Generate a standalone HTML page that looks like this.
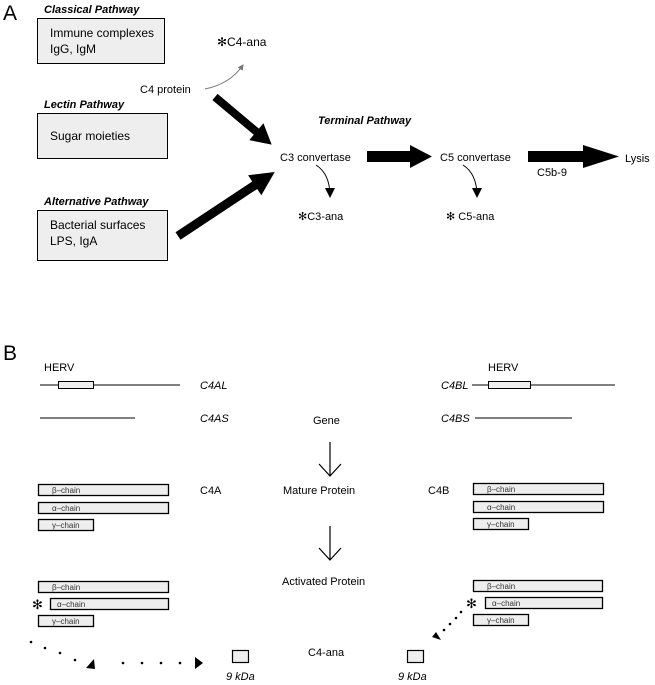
<!DOCTYPE html>
<html><head><meta charset="utf-8"><style>body{margin:0;background:#fff}svg{display:block}</style></head><body>
<svg width="655" height="685" viewBox="0 0 655 685" xmlns="http://www.w3.org/2000/svg" font-family="Liberation Sans, sans-serif" font-size="11">
<defs>
<marker id="ah" markerWidth="10" markerHeight="10" refX="8" refY="5" orient="auto" markerUnits="userSpaceOnUse"><path d="M0,0 L10,5 L0,10 Z" fill="#000"/></marker>
<marker id="ag" markerWidth="6" markerHeight="6" refX="5" refY="3" orient="auto" markerUnits="userSpaceOnUse"><path d="M0,0 L6,3 L0,6 Z" fill="#777"/></marker>
</defs>
<text x="3" y="20" font-size="21">A</text>
<text x="44" y="13" font-weight="bold" font-style="italic">Classical Pathway</text>
<rect x="37.5" y="18.5" width="127" height="45" fill="#eee" stroke="#000"/>
<text x="50" y="37" font-size="12">Immune complexes</text>
<text x="50" y="53" font-size="12">IgG, IgM</text>
<text x="217" y="46" font-size="12">✻C4-ana</text>
<text x="140" y="93" font-size="11">C4 protein</text>
<path d="M205,89 Q230,84 243,65" fill="none" stroke="#777" stroke-width="1" marker-end="url(#ag)"/>
<text x="44" y="108" font-weight="bold" font-style="italic">Lectin Pathway</text>
<rect x="37.5" y="113.5" width="130" height="45" fill="#eee" stroke="#000"/>
<text x="50" y="140" font-size="12">Sugar moieties</text>
<text x="44" y="205" font-weight="bold" font-style="italic">Alternative Pathway</text>
<rect x="37.5" y="210.5" width="130" height="50" fill="#eee" stroke="#000"/>
<text x="50" y="229" font-size="12">Bacterial surfaces</text>
<text x="50" y="245" font-size="12">LPS, IgA</text>
<g transform="translate(215,97) rotate(40)"><polygon points="0,-4 54,-4 54,-11 74,0 54,11 54,4 0,4"/></g>
<g transform="translate(178,236) rotate(-33.5)"><polygon points="0,-4.5 92,-4.5 92,-12 116,0 92,12 92,4.5 0,4.5"/></g>
<text x="280" y="161" font-size="11">C3 convertase</text>
<text x="318" y="124" font-weight="bold" font-style="italic">Terminal Pathway</text>
<polygon points="367,151 410,151 410,145 432,156.5 410,168 410,162 367,162"/>
<text x="440" y="161" font-size="11">C5 convertase</text>
<polygon points="528,151 583,151 583,145 619,156.5 583,168 583,162 528,162"/>
<text x="625" y="162" font-size="11">Lysis</text>
<text x="537" y="176" font-size="11">C5b-9</text>
<path d="M316,165 Q330,174 330,196" fill="none" stroke="#000" stroke-width="1" marker-end="url(#ah)"/>
<path d="M463,165 Q477,174 477,196" fill="none" stroke="#000" stroke-width="1" marker-end="url(#ah)"/>
<text x="298" y="220" font-size="11">✻C3-ana</text>
<text x="446" y="220" font-size="11">✻ C5-ana</text>

<text x="3" y="360" font-size="21">B</text>
<text x="44" y="371" font-size="11">HERV</text>
<line x1="40" y1="385" x2="180" y2="385" stroke="#000"/>
<rect x="58.5" y="381.5" width="35" height="7" fill="#eee" stroke="#000"/>
<text x="200" y="389" font-style="italic">C4AL</text>
<line x1="40" y1="418" x2="135" y2="418" stroke="#000"/>
<text x="200" y="422" font-style="italic">C4AS</text>
<text x="488" y="371" font-size="11">HERV</text>
<line x1="472" y1="385" x2="615" y2="385" stroke="#000"/>
<rect x="488.5" y="381.5" width="42" height="7" fill="#eee" stroke="#000"/>
<text x="441" y="389" font-style="italic">C4BL</text>
<line x1="475" y1="418" x2="572" y2="418" stroke="#000"/>
<text x="441" y="422" font-style="italic">C4BS</text>
<text x="313" y="424">Gene</text>
<path d="M330,442 V475 M319,464 L330,476 L341,464" fill="none" stroke="#000" stroke-width="1.2"/>
<text x="283" y="494">Mature Protein</text>
<path d="M330,526 V559 M319,548 L330,560 L341,548" fill="none" stroke="#000" stroke-width="1.2"/>
<text x="282" y="585">Activated Protein</text>
<text x="308" y="656">C4-ana</text>
<text x="200" y="494">C4A</text>
<text x="428" y="494">C4B</text>
<g font-size="8" fill="#333" stroke-width="1.3">
<rect x="38.5" y="484.5" width="130" height="11" fill="#eee" stroke="#000"/><text x="52" y="493">β–chain</text>
<rect x="38.5" y="502.5" width="130" height="11" fill="#eee" stroke="#000"/><text x="52" y="511">α–chain</text>
<rect x="38.5" y="519.5" width="55" height="11" fill="#eee" stroke="#000"/><text x="52" y="528">γ–chain</text>
<rect x="38.5" y="581.5" width="130" height="11" fill="#eee" stroke="#000"/><text x="52" y="590">β–chain</text>
<rect x="50.5" y="598.5" width="118" height="11" fill="#eee" stroke="#000"/><text x="57" y="607">α–chain</text>
<rect x="38.5" y="615.5" width="55" height="11" fill="#eee" stroke="#000"/><text x="52" y="624">γ–chain</text>
<rect x="473.5" y="483.5" width="130" height="11" fill="#eee" stroke="#000"/><text x="487" y="492">β–chain</text>
<rect x="473.5" y="501.5" width="130" height="11" fill="#eee" stroke="#000"/><text x="487" y="510">α–chain</text>
<rect x="473.5" y="518.5" width="55" height="11" fill="#eee" stroke="#000"/><text x="487" y="527">γ–chain</text>
<rect x="473.5" y="580.5" width="129" height="11" fill="#eee" stroke="#000"/><text x="487" y="589">β–chain</text>
<rect x="485.5" y="597.5" width="117" height="11" fill="#eee" stroke="#000"/><text x="492" y="606">α–chain</text>
<rect x="473.5" y="614.5" width="55" height="11" fill="#eee" stroke="#000"/><text x="487" y="623">γ–chain</text>
</g>
<text x="32" y="609" font-size="13">✻</text>
<text x="466" y="608" font-size="13">✻</text>
<g fill="#000">
<circle cx="31" cy="642" r="1.3"/><circle cx="45" cy="648" r="1.3"/><circle cx="60" cy="653" r="1.3"/><circle cx="75" cy="660" r="1.3"/>
<polygon points="86,668 94,659 95,669"/>
<circle cx="123" cy="663" r="1.3"/><circle cx="142" cy="663" r="1.3"/><circle cx="161" cy="663" r="1.3"/><circle cx="180" cy="663" r="1.3"/>
<polygon points="195,657 203,663 195,669"/>
<circle cx="461" cy="612" r="1.3"/><circle cx="456" cy="618" r="1.3"/><circle cx="450" cy="624" r="1.3"/><circle cx="444" cy="630" r="1.3"/>
<polygon points="432,637 441,640 436,632"/>
</g>
<rect x="232.5" y="650.5" width="16" height="12" fill="#eee" stroke="#000" stroke-width="1.2"/>
<rect x="407.5" y="650.5" width="16" height="12" fill="#eee" stroke="#000" stroke-width="1.2"/>
<text x="226" y="680" font-style="italic">9 kDa</text>
<text x="398" y="680" font-style="italic">9 kDa</text>
</svg>
</body></html>
